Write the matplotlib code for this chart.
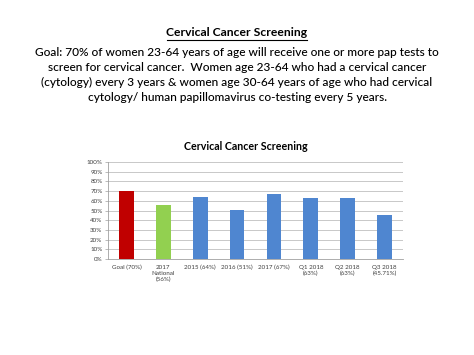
import matplotlib
matplotlib.use("Agg")
import matplotlib.pyplot as plt
from matplotlib.ticker import FuncFormatter

categories = ["Goal (70%)", "2017\nNational\n(56%)", "2015 (64%)", "2016 (51%)",
              "2017 (67%)", "Q1 2018\n(63%)", "Q2 2018\n(63%)", "Q3 2018\n(45.71%)"]
values = [0.70, 0.56, 0.64, 0.51, 0.67, 0.63, 0.63, 0.4571]
colors = ["#C00000", "#92D050", "#4F86D0", "#4F86D0", "#4F86D0", "#4F86D0", "#4F86D0", "#4F86D0"]

plt.rcParams['font.family'] = ['Lato', 'DejaVu Sans']

fig = plt.figure(figsize=(4.74, 3.55), dpi=100)
fig.patch.set_facecolor("white")

# Heading text
fig.text(237/474, 1 - 33/355, "Cervical Cancer Screening", ha="center", va="center",
         fontsize=8.7, fontweight="bold")
fig.add_artist(plt.Line2D([167/474, 307/474], [1 - 40/355, 1 - 40/355], color="black", lw=0.8))
body = ("Goal: 70% of women 23-64 years of age will receive one or more pap tests to\n"
        "screen for cervical cancer.  Women age 23-64 who had a cervical cancer\n"
        "(cytology) every 3 years & women age 30-64 years of age who had cervical\n"
        "cytology/ human papillomavirus co-testing every 5 years.")
fig.text(237/474, 1 - 75/355, body, ha="center", va="center", fontsize=8.6,
         linespacing=1.43, fontweight="medium")

ax = fig.add_axes([108/474, 1 - 259/355, 295/474, 97/355])
x = range(len(categories))
ax.bar(x, values, width=0.4, color=colors, zorder=3)
ax.set_xlim(-0.5, len(categories) - 0.5)
ax.set_ylim(0, 1.0)
ax.set_yticks([i / 10 for i in range(11)])
ax.yaxis.set_major_formatter(FuncFormatter(lambda v, p: f"{int(round(v*100))}%"))
ax.grid(axis="y", color="#BFBFBF", lw=0.6, zorder=0)
ax.set_xticks(list(x))
ax.set_xticklabels(categories, fontsize=4.5, color="#404040", linespacing=1.3)
ax.tick_params(axis="y", labelsize=4.5, labelcolor="#404040", length=2, width=0.5,
               color="#A0A0A0", pad=2)
ax.tick_params(axis="x", length=0, pad=4)
for s in ["top", "right"]:
    ax.spines[s].set_visible(False)
ax.spines["left"].set_color("#A0A0A0")
ax.spines["left"].set_linewidth(0.6)
ax.spines["bottom"].set_color("#A0A0A0")
ax.spines["bottom"].set_linewidth(0.6)
fig.text(246/474, 1 - 146/355, "Cervical Cancer Screening", ha="center", va="center",
         fontsize=7.7, fontweight="bold")

fig.savefig("out.png", dpi=100)
